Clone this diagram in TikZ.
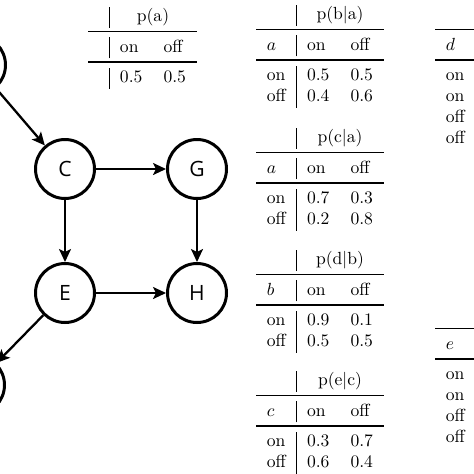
\documentclass[tikz,border=0pt]{standalone}
\usepackage{fontspec}
\usepackage{booktabs}
\usetikzlibrary{arrows.meta, positioning}
\newfontfamily\varfont{Open Sans}
\setlength{\lightrulewidth}{0.8pt}
\setlength{\arrayrulewidth}{0.6pt}
\tikzset{
    var/.style ={circle, draw=black, line width=1.7pt, minimum size=11.8mm, inner sep=0pt, font=\varfont\fontsize{12}{14}\selectfont},
    link/.style={-{Stealth[length=2.6mm, width=2.4mm, inset=0.6mm]}, line width=1.3pt},
    cpt/.style ={anchor=north west, inner sep=0pt},
}

\begin{document}
\begin{tikzpicture}[x=0.2mm, y=-0.2mm, node distance=26.4mm, on grid]
    \useasboundingbox (0,0) rectangle (474,474);
    % network
    \node[var] (C) at (65,169) {C};
    \node[var, right=of C] (G) {G};
    \node[var, below=24.8mm of C] (E) {E};
    \node[var, right=of E] (H) {H};
    \node[var, above left=20.8mm and 17.8mm of C] (A) {};
    \node[var, below left=18.4mm and 18mm of E] (F) {};
    \draw[link] (A) -- (C);
    \draw[link] (C) -- (G);
    \draw[link] (C) -- (E);
    \draw[link] (G) -- (H);
    \draw[link] (E) -- (H);
    \draw[link] (E) -- (F);
    % tables
    \node[cpt] (pa) at (88,6.5) {\begin{tabular}{l|ll}
        & \multicolumn{2}{c}{p(a)} \\ \midrule
        & on & off \\ \midrule
        & 0.5 & 0.5
    \end{tabular}};
    \node[cpt] (pba) at (256,4.5) {\begin{tabular}{l|ll}
        & \multicolumn{2}{c}{p(b$|$a)} \\ \midrule
        $a$ & on & off \\ \midrule
        on & 0.5 & 0.5 \\
        off & 0.4 & 0.6
    \end{tabular}};
    \node[cpt] (pca) at (256,127.5) {\begin{tabular}{l|ll}
        & \multicolumn{2}{c}{p(c$|$a)} \\ \midrule
        $a$ & on & off \\ \midrule
        on & 0.7 & 0.3 \\
        off & 0.2 & 0.8
    \end{tabular}};
    \node[cpt] (pdb) at (256,249.5) {\begin{tabular}{l|ll}
        & \multicolumn{2}{c}{p(d$|$b)} \\ \midrule
        $b$ & on & off \\ \midrule
        on & 0.9 & 0.1 \\
        off & 0.5 & 0.5
    \end{tabular}};
    \node[cpt] (pec) at (256,370.5) {\begin{tabular}{l|ll}
        & \multicolumn{2}{c}{p(e$|$c)} \\ \midrule
        $c$ & on & off \\ \midrule
        on & 0.3 & 0.7 \\
        off & 0.6 & 0.4
    \end{tabular}};
    % tables cut off at the right edge
    \node[cpt] (pd) at (435,4.5) {\begin{tabular}{ll}
        & \\ \midrule
        $d$ & \\ \midrule
        on & \\
        on & \\
        off & \\
        off &
    \end{tabular}};
    \node[cpt] (pe) at (435,303.5) {\begin{tabular}{ll}
        & \\ \midrule
        $e$ & \\ \midrule
        on & \\
        on & \\
        off & \\
        off &
    \end{tabular}};
\end{tikzpicture}
\end{document}
